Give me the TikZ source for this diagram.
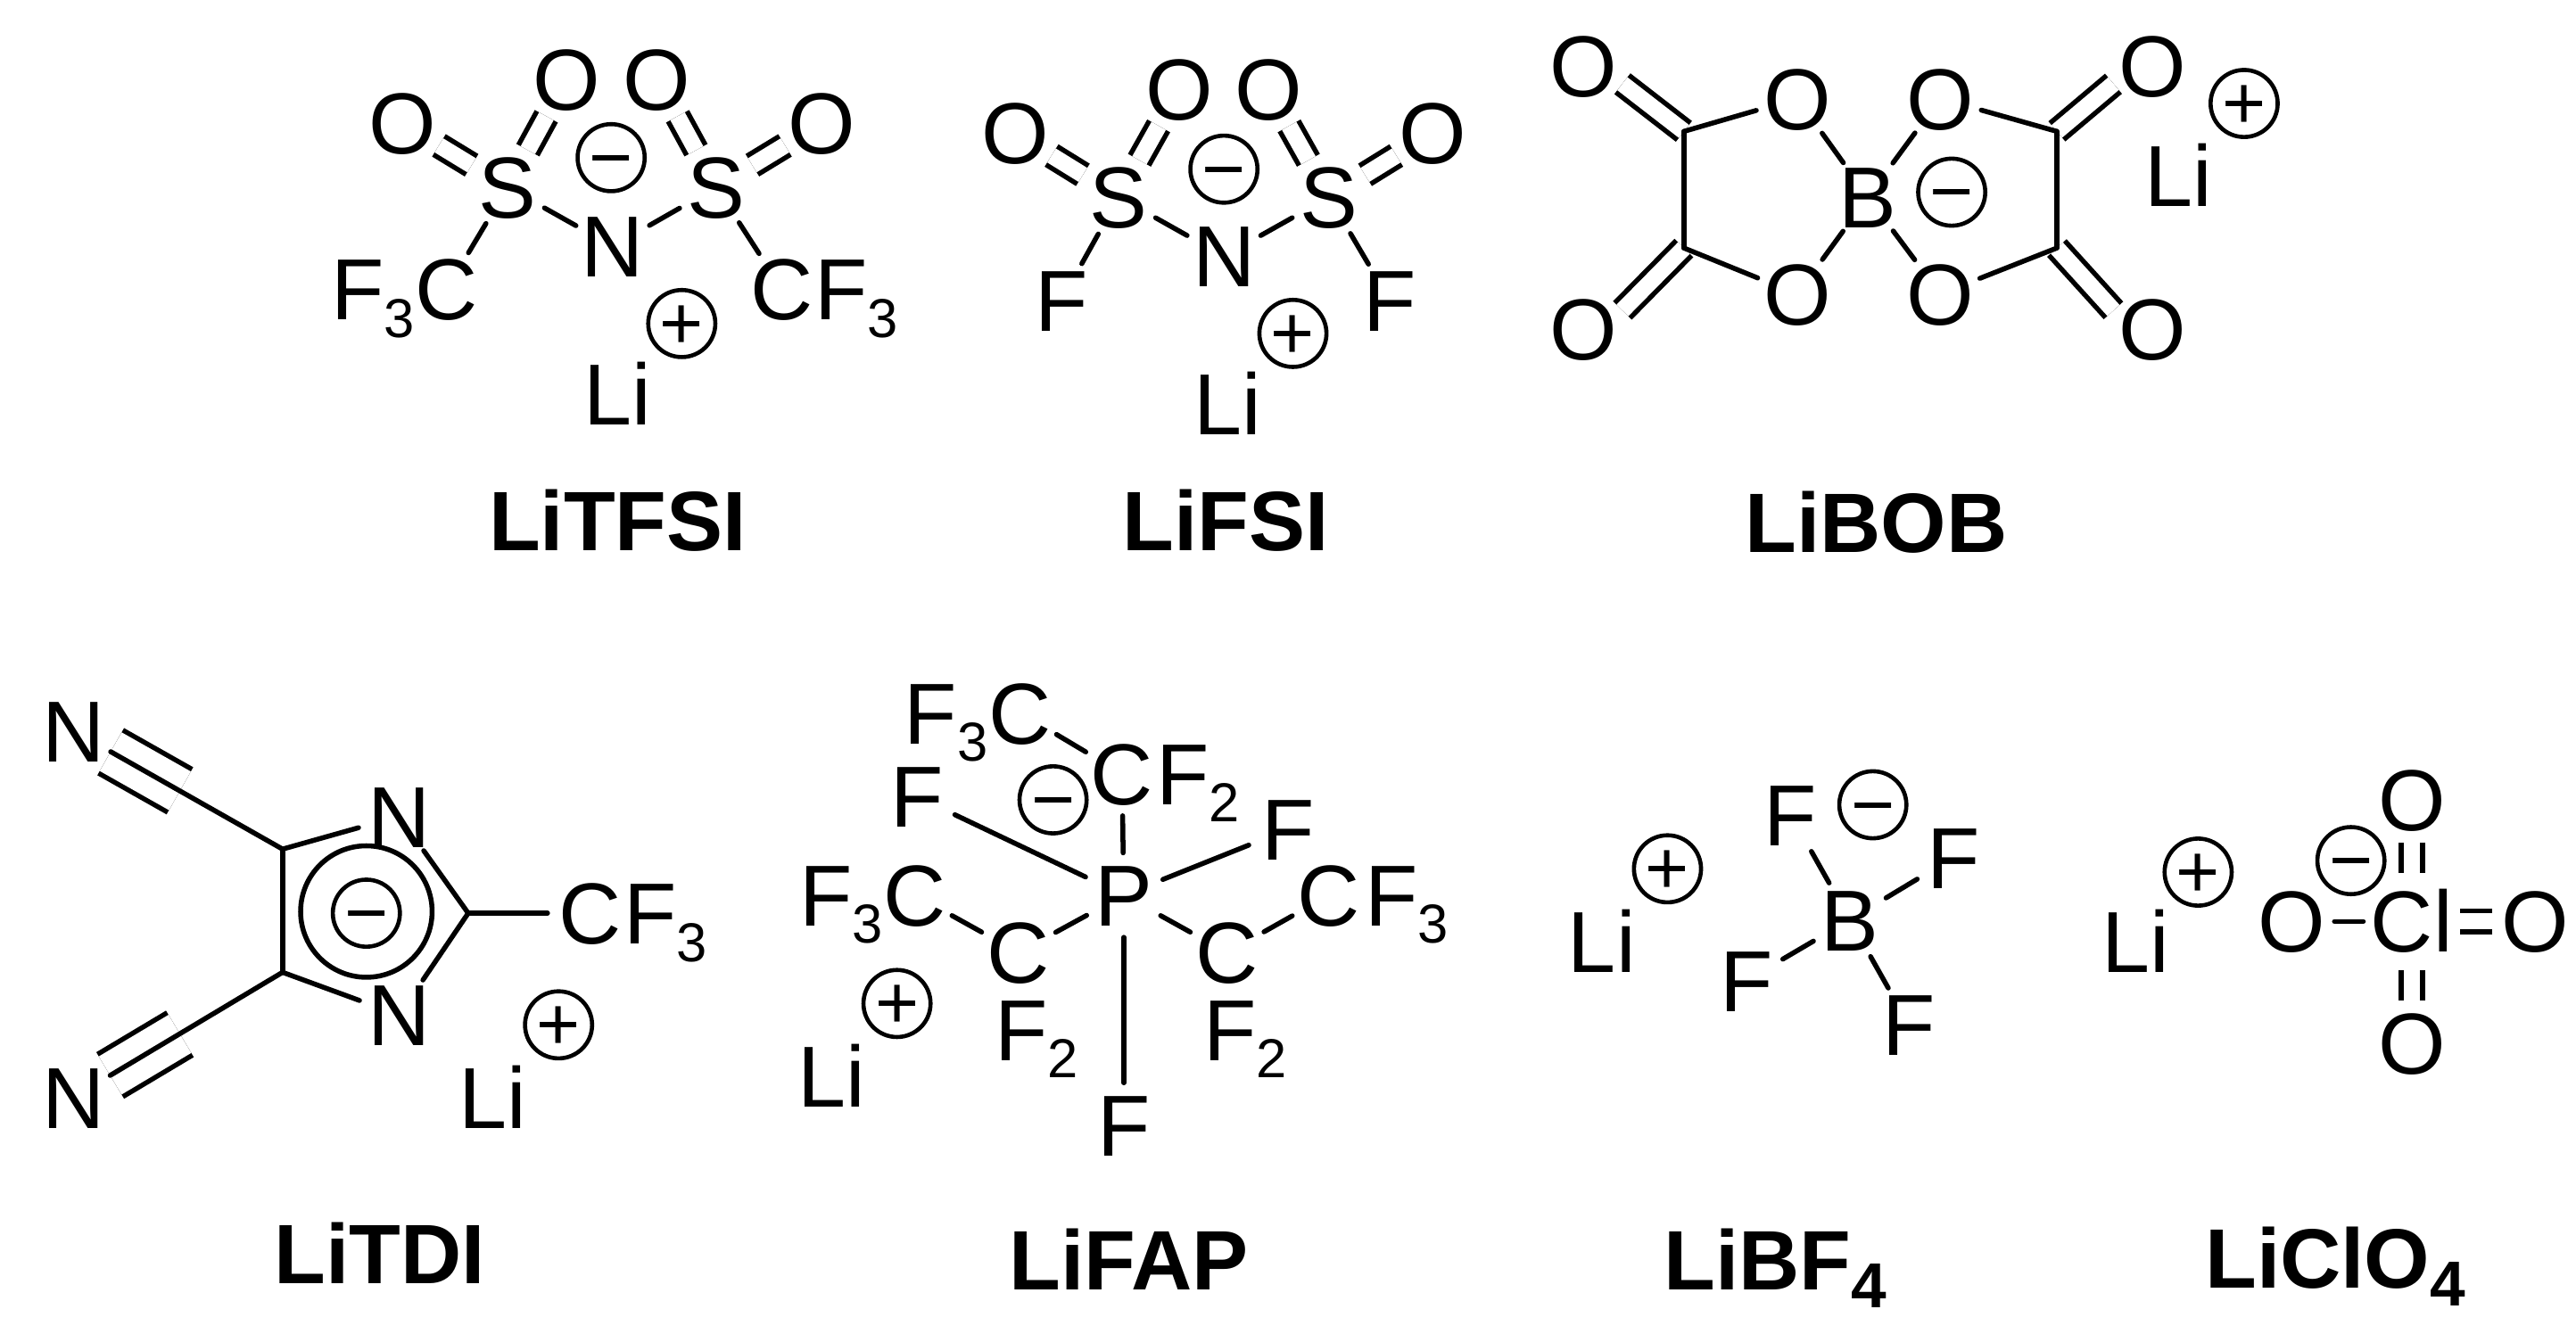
\documentclass[tikz,border=0pt]{standalone}
\usepackage{fontspec}
\setmainfont{Liberation Sans}
\newcommand{\chemsub}[2][9.5]{\raisebox{-3pt}{\fontsize{#1}{#1}\selectfont #2}}
\tikzset{
  atom/.style={circle,inner sep=-0.5pt,minimum size=0.5cm,font=\fontsize{15}{15}\selectfont,text height=10.7pt,text depth=0pt},
  grp/.style={rectangle,inner sep=0pt,font=\fontsize{15}{15}\selectfont,text height=10.7pt,text depth=0pt},
  chg/.style={draw,circle,inner sep=0pt,minimum size=0.38cm,line width=0.025cm,font=\fontsize{13}{13}\selectfont,text height=8.8pt,text depth=0pt},
  saltname/.style={rectangle,inner sep=0pt,font=\fontsize{14.6}{14.6}\bfseries\selectfont,text height=10.5pt,text depth=0pt},
  bond/.style={line width=0.03cm,line cap=round},
  dbond/.style={line width=0.03cm,double,double distance=0.1cm},
  tbond/.style={line width=0.03cm,double,double distance=0.27cm}
}
\begin{document}
\begin{tikzpicture}[x=0.01cm,y=-0.01cm]
  \useasboundingbox (0,0) rectangle (1568,812);

  % LiTFSI
  \node[atom] (tfsiOa) at (245,75) {O};
  \node[atom] (tfsiOb) at (345,48) {O};
  \node[atom] (tfsiOc) at (400,48) {O};
  \node[atom] (tfsiOd) at (500,75) {O};
  \node[atom] (tfsiSa) at (309,114) {S};
  \node[atom] (tfsiSb) at (436,114) {S};
  \node[atom] (tfsiN) at (373,150) {N};
  \node[atom] (tfsiCa) at (272,176) {C};
  \node[atom] (tfsiCb) at (476,176) {C};
  \node[grp,anchor=east] (tfsiFa) at (253,176) {F\chemsub{3}};
  \node[grp,anchor=west] (tfsiFb) at (495,176) {F\chemsub{3}};
  \node[chg] (tfsiMinus) at (372,96) {−};
  \node[chg] (tfsiPlus) at (415,197) {+};
  \node[atom] (tfsiLi) at (376,240) {Li};
  \node[saltname] (tfsiName) at (376,317) {LiTFSI};
  \draw[dbond] (tfsiOa) -- (tfsiSa);
  \draw[dbond] (tfsiOb) -- (tfsiSa);
  \draw[dbond] (tfsiOc) -- (tfsiSb);
  \draw[dbond] (tfsiOd) -- (tfsiSb);
  \draw[bond] (tfsiSa) -- (tfsiN);
  \draw[bond] (tfsiSb) -- (tfsiN);
  \draw[bond] (tfsiSa) -- (tfsiCa);
  \draw[bond] (tfsiSb) -- (tfsiCb);

  % LiFSI
  \node[atom] (fsiOa) at (618,81) {O};
  \node[atom] (fsiOb) at (718,54) {O};
  \node[atom] (fsiOc) at (772,54) {O};
  \node[atom] (fsiOd) at (872,81) {O};
  \node[atom] (fsiSa) at (681,120) {S};
  \node[atom] (fsiSb) at (809,120) {S};
  \node[atom] (fsiN) at (745,156) {N};
  \node[atom] (fsiFa) at (646,183) {F};
  \node[atom] (fsiFb) at (846,183) {F};
  \node[chg] (fsiMinus) at (745,103) {−};
  \node[chg] (fsiPlus) at (787,203) {+};
  \node[atom] (fsiLi) at (747,246) {Li};
  \node[saltname] (fsiName) at (746,317) {LiFSI};
  \draw[dbond] (fsiOa) -- (fsiSa);
  \draw[dbond] (fsiOb) -- (fsiSa);
  \draw[dbond] (fsiOc) -- (fsiSb);
  \draw[dbond] (fsiOd) -- (fsiSb);
  \draw[bond] (fsiSa) -- (fsiN);
  \draw[bond] (fsiSb) -- (fsiN);
  \draw[bond] (fsiSa) -- (fsiFa);
  \draw[bond] (fsiSb) -- (fsiFb);

  % LiBOB
  \node[atom] (bobOa) at (964,40) {O};
  \node[atom] (bobOb) at (1310,40) {O};
  \node[atom] (bobOc) at (964,200) {O};
  \node[atom] (bobOd) at (1310,200) {O};
  \node[atom] (bobOe) at (1094,60) {O};
  \node[atom] (bobOf) at (1181,60) {O};
  \node[atom] (bobOg) at (1094,179) {O};
  \node[atom] (bobOh) at (1181,179) {O};
  \node[atom] (bobB) at (1137,120) {B};
  \coordinate (bobCa) at (1025,80);
  \coordinate (bobCb) at (1252,80);
  \coordinate (bobCc) at (1025,151);
  \coordinate (bobCd) at (1252,151);
  \node[chg] (bobMinus) at (1188,117) {−};
  \node[chg] (bobPlus) at (1366,63) {+};
  \node[atom] (bobLi) at (1326,107) {Li};
  \node[saltname] (bobName) at (1142,318) {LiBOB};
  \draw[dbond] (bobOa.-25) -- (bobCa);
  \draw[dbond] (bobOb.205) -- (bobCb);
  \draw[dbond] (bobOc.25) -- (bobCc);
  \draw[dbond] (bobOd.155) -- (bobCd);
  \draw[bond] (bobCa) -- (bobCc);
  \draw[bond] (bobCb) -- (bobCd);
  \draw[bond] (bobCa) -- (bobOe);
  \draw[bond] (bobCb) -- (bobOf);
  \draw[bond] (bobCc) -- (bobOg);
  \draw[bond] (bobCd) -- (bobOh);
  \draw[bond] (bobOe) -- (bobB);
  \draw[bond] (bobOf) -- (bobB);
  \draw[bond] (bobOg) -- (bobB);
  \draw[bond] (bobOh) -- (bobB);

  % LiTDI
  \node[atom] (tdiNa) at (45,445) {N};
  \node[atom] (tdiNb) at (45,668) {N};
  \node[atom] (tdiNc) at (243,497) {N};
  \node[atom] (tdiNd) at (243,618) {N};
  \coordinate (tdiCa) at (172,517);
  \coordinate (tdiCb) at (172,592);
  \coordinate (tdiCc) at (285,556);
  \coordinate (tdiTa) at (109.5,481.5);
  \coordinate (tdiTb) at (109.5,629.5);
  \node[atom] (tdiCd) at (359,556) {C};
  \node[grp,anchor=west] (tdiF) at (379,556) {F\chemsub{3}};
  \node[draw,circle,inner sep=0pt,minimum size=0.8cm,line width=0.03cm] (tdiRing) at (223,555) {};
  \node[chg] (tdiMinus) at (223,556) {−};
  \node[chg] (tdiPlus) at (340,624) {+};
  \node[atom] (tdiLi) at (300,668) {Li};
  \node[saltname] (tdiName) at (231,763) {LiTDI};
  \draw[tbond] (tdiNa) -- (tdiTa);
  \draw[tbond] (tdiNb) -- (tdiTb);
  \draw[bond] (tdiNa) -- (tdiCa);
  \draw[bond] (tdiNb) -- (tdiCb);
  \draw[bond] (tdiCa) -- (tdiCb);
  \draw[bond] (tdiCa) -- (tdiNc);
  \draw[bond] (tdiCb) -- (tdiNd);
  \draw[bond] (tdiNc) -- (tdiCc);
  \draw[bond] (tdiNd) -- (tdiCc);
  \draw[bond] (tdiCc) -- (tdiCd);

  % LiFAP
  \node[atom] (fapP) at (684,545) {P};
  \node[atom] (fapCa) at (621,434) {C};
  \node[grp,anchor=east] (fapFa) at (602,434) {F\chemsub{3}};
  \node[atom] (fapCb) at (683,471) {C};
  \node[grp,anchor=west] (fapFb) at (703,471) {F\chemsub{2}};
  \node[atom] (fapFc) at (558,485) {F};
  \node[atom] (fapFd) at (784,505) {F};
  \node[atom] (fapCc) at (557,545) {C};
  \node[grp,anchor=east] (fapFe) at (538,545) {F\chemsub{3}};
  \node[atom] (fapCd) at (809,545) {C};
  \node[grp,anchor=west] (fapFf) at (830,545) {F\chemsub{3}};
  \node[atom] (fapCe) at (620,580) {C};
  \node[grp,anchor=west] (fapFg) at (605,627) {F\chemsub{2}};
  \node[atom] (fapCf) at (747,580) {C};
  \node[grp,anchor=west] (fapFh) at (732,627) {F\chemsub{2}};
  \node[atom] (fapFi) at (684,685) {F};
  \node[chg] (fapMinus) at (641,487) {−};
  \node[chg] (fapPlus) at (546,611) {+};
  \node[atom] (fapLi) at (506,655) {Li};
  \node[saltname] (fapName) at (687,767) {LiFAP};
  \draw[bond] (fapCa) -- (fapCb);
  \draw[bond] (fapCb) -- (fapP);
  \draw[bond] (fapFc) -- (fapP);
  \draw[bond] (fapFd) -- (fapP);
  \draw[bond] (fapCc) -- (fapCe);
  \draw[bond] (fapCe) -- (fapP);
  \draw[bond] (fapCd) -- (fapCf);
  \draw[bond] (fapCf) -- (fapP);
  \draw[bond] (fapP) -- (fapFi);

  % LiBF4
  \node[atom] (bfB) at (1126,560) {B};
  \node[atom] (bfFa) at (1090,496) {F};
  \node[atom] (bfFb) at (1189,522) {F};
  \node[atom] (bfFc) at (1063,597) {F};
  \node[atom] (bfFd) at (1162,624) {F};
  \node[chg] (bfMinus) at (1140,490) {−};
  \node[chg] (bfPlus) at (1015,529) {+};
  \node[atom] (bfLi) at (975,573) {Li};
  \node[saltname] (bfName) at (1080.5,767) {LiBF\chemsub[11]{4}};
  \draw[bond] (bfFa) -- (bfB);
  \draw[bond] (bfFb) -- (bfB);
  \draw[bond] (bfFc) -- (bfB);
  \draw[bond] (bfFd) -- (bfB);

  % LiClO4
  \node[atom] (clCl) at (1468,561) {Cl};
  \node[atom] (clOa) at (1468,487) {O};
  \node[atom] (clOb) at (1395,561) {O};
  \node[atom] (clOc) at (1543,561) {O};
  \node[atom] (clOd) at (1468,635) {O};
  \node[chg] (clMinus) at (1431,524) {−};
  \node[chg] (clPlus) at (1338,531) {+};
  \node[atom] (clLi) at (1300,573) {Li};
  \node[saltname] (clName) at (1421.5,766) {LiClO\chemsub[11]{4}};
  \draw[dbond] (clOa) -- (clCl);
  \draw[bond] (clOb) -- (clCl);
  \draw[dbond] (clOc) -- (clCl);
  \draw[dbond] (clOd) -- (clCl);
\end{tikzpicture}
\end{document}
